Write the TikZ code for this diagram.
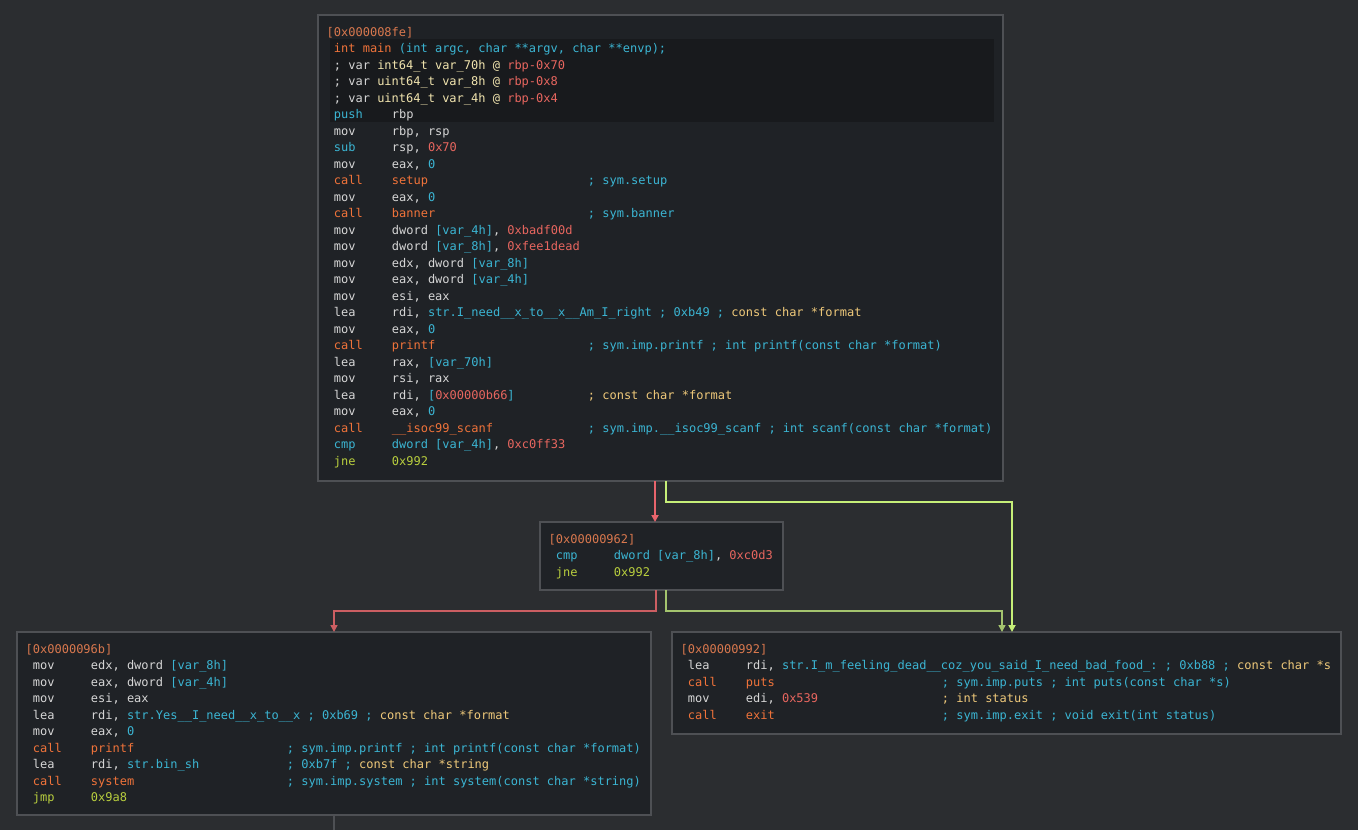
\documentclass[tikz,border=0pt]{standalone}
\usepackage{fontspec}
\setmonofont{DejaVu Sans Mono}
\usepackage{xcolor}
\usepackage{tikz}
\usetikzlibrary{arrows.meta,positioning,calc}
\definecolor{bgc}{HTML}{2B2D30}
\definecolor{blkfill}{HTML}{1F2226}
\definecolor{blkline}{HTML}{4E5054}
\definecolor{hdrfill}{HTML}{181A1D}
\definecolor{asmtext}{HTML}{D6D6D6}
\definecolor{asmaddr}{HTML}{D9784E}
\definecolor{asmcall}{HTML}{F0733A}
\definecolor{asmcyan}{HTML}{3BB5D3}
\definecolor{asmnum}{HTML}{E8665F}
\definecolor{asmgold}{HTML}{EFC97A}
\definecolor{asmpale}{HTML}{F1E4AE}
\definecolor{asmjmp}{HTML}{B9CF3E}
\definecolor{edred}{HTML}{E8646C}
\definecolor{edgreen}{HTML}{C6EE78}
\definecolor{edredd}{HTML}{CC5E62}
\definecolor{edgreend}{HTML}{A4C46E}
\newcommand{\tad}[1]{\textcolor{asmaddr}{#1}}
\newcommand{\tog}[1]{\textcolor{asmcall}{#1}}
\newcommand{\tcy}[1]{\textcolor{asmcyan}{#1}}
\newcommand{\trd}[1]{\textcolor{asmnum}{#1}}
\newcommand{\tgd}[1]{\textcolor{asmgold}{#1}}
\newcommand{\tpl}[1]{\textcolor{asmpale}{#1}}
\newcommand{\tyl}[1]{\textcolor{asmjmp}{#1}}
% one disassembly row: mnemonic, operands, comment
\newcommand{\insn}[3]{\hspace*{7.2pt}\makebox[58pt][l]{#1}\makebox[196pt][l]{#2}#3}

\begin{document}
\begin{tikzpicture}[x=1pt,y=-1pt,
  bk/.style={draw=blkline,line width=1.5pt,fill=blkfill,anchor=north west,inner sep=0pt,outer sep=0pt},
  tx/.style={font=\ttfamily\fontsize{12}{16.5}\selectfont,text=asmtext,align=left,inner sep=0pt,anchor=north west},
  hl/.style={fill=hdrfill},
  jt/.style={draw=edgreen,line width=2pt,-{Triangle[width=7pt,length=7pt]}},
  jf/.style={draw=edred,line width=2pt,-{Triangle[width=7pt,length=7pt]}},
  jtd/.style={jt,draw=edgreend,line width=1.5pt},
  jfd/.style={jf,draw=edredd,line width=1.5pt}
]
\fill[bgc] (0,0) rectangle (1358,830);
\useasboundingbox (0,0) rectangle (1358,830);
\coordinate (bot) at (0,830);

% blocks
\node[bk,minimum width=685pt,minimum height=466pt] (blkMain) at (318,15) {};
\node[bk,minimum width=243pt,minimum height=68pt] (blkCmp) at (540,522) {};
\node[bk,minimum width=634pt,minimum height=183pt] (blkWin) at (17,632) {};
\node[bk,minimum width=669pt,minimum height=102pt] (blkFail) at (672,632) {};
\fill[hl] ($(blkMain.north west)+(12,24)$) rectangle ($(blkMain.north east)+(-9,107)$);

\node[tx] (txMain) at ($(blkMain.north west)+(8.5,9.5)$) {%
\strut\tad{[0x000008fe]}\\
\hspace*{7.2pt}\tog{int main} \tcy{(int argc, char **argv, char **envp);}\\
\hspace*{7.2pt}; var \tpl{int64\_t var\_70h @} \trd{rbp-0x70}\\
\hspace*{7.2pt}; var \tpl{uint64\_t var\_8h @} \trd{rbp-0x8}\\
\hspace*{7.2pt}; var \tpl{uint64\_t var\_4h @} \trd{rbp-0x4}\\
\insn{\tcy{push}}{rbp}{}\\
\insn{mov}{rbp, rsp}{}\\
\insn{\tcy{sub}}{rsp, \trd{0x70}}{}\\
\insn{mov}{eax, \tcy{0}}{}\\
\insn{\tog{call}}{\tog{setup}}{\tcy{; sym.setup}}\\
\insn{mov}{eax, \tcy{0}}{}\\
\insn{\tog{call}}{\tog{banner}}{\tcy{; sym.banner}}\\
\insn{mov}{dword \tcy{[var\_4h]}, \trd{0xbadf00d}}{}\\
\insn{mov}{dword \tcy{[var\_8h]}, \trd{0xfee1dead}}{}\\
\insn{mov}{edx, dword \tcy{[var\_8h]}}{}\\
\insn{mov}{eax, dword \tcy{[var\_4h]}}{}\\
\insn{mov}{esi, eax}{}\\
\insn{lea}{rdi, \tcy{str.I\_need\_\_x\_to\_\_x\_\_Am\_I\_right ; 0xb49 ;} \tgd{const char *format}}{}\\
\insn{mov}{eax, \tcy{0}}{}\\
\insn{\tog{call}}{\tog{printf}}{\tcy{; sym.imp.printf ; int printf(const char *format)}}\\
\insn{lea}{rax, \tcy{[var\_70h]}}{}\\
\insn{mov}{rsi, rax}{}\\
\insn{lea}{rdi, \tcy{[}\trd{0x00000b66}\tcy{]}}{\tgd{; const char *format}}\\
\insn{mov}{eax, \tcy{0}}{}\\
\insn{\tog{call}}{\tog{\_\_isoc99\_scanf}}{\tcy{; sym.imp.\_\_isoc99\_scanf ; int scanf(const char *format)}}\\
\insn{\tcy{cmp}}{\tcy{dword [var\_4h]}, \trd{0xc0ff33}}{}\\
\insn{\tyl{jne}}{\tyl{0x992}}{}};

\node[tx] (txCmp) at ($(blkCmp.north west)+(8.5,9.5)$) {%
\strut\tad{[0x00000962]}\\
\insn{\tcy{cmp}}{\tcy{dword [var\_8h]}, \trd{0xc0d3}}{}\\
\insn{\tyl{jne}}{\tyl{0x992}}{}};

\node[tx] (txWin) at ($(blkWin.north west)+(8.5,9.5)$) {%
\strut\tad{[0x0000096b]}\\
\insn{mov}{edx, dword \tcy{[var\_8h]}}{}\\
\insn{mov}{eax, dword \tcy{[var\_4h]}}{}\\
\insn{mov}{esi, eax}{}\\
\insn{lea}{rdi, \tcy{str.Yes\_\_I\_need\_\_x\_to\_\_x ; 0xb69 ;} \tgd{const char *format}}{}\\
\insn{mov}{eax, \tcy{0}}{}\\
\insn{\tog{call}}{\tog{printf}}{\tcy{; sym.imp.printf ; int printf(const char *format)}}\\
\insn{lea}{rdi, \tcy{str.bin\_sh}}{\tcy{; 0xb7f ;} \tgd{const char *string}}\\
\insn{\tog{call}}{\tog{system}}{\tcy{; sym.imp.system ; int system(const char *string)}}\\
\insn{\tyl{jmp}}{\tyl{0x9a8}}{}};

\node[tx] (txFail) at ($(blkFail.north west)+(8.5,9.5)$) {%
\strut\tad{[0x00000992]}\\
\insn{lea}{rdi, \tcy{str.I\_m\_feeling\_dead\_\_coz\_you\_said\_I\_need\_bad\_food\_: ; 0xb88 ;} \tgd{const char *s}}{}\\
\insn{\tog{call}}{\tog{puts}}{\tcy{; sym.imp.puts ; int puts(const char *s)}}\\
\insn{mov}{edi, \trd{0x539}}{\tgd{; int status}}\\
\insn{\tog{call}}{\tog{exit}}{\tcy{; sym.imp.exit ; void exit(int status)}}};

% jumps
\draw[jf] ([xshift=-5.5pt]blkMain.south) -- ([xshift=-5.5pt]blkMain.south |- blkCmp.north);
\draw[jt] ([xshift=5.5pt]blkMain.south) -- ++(0,21) -| ([xshift=5.5pt]blkFail.north);
\draw[jfd] ([xshift=-5.5pt]blkCmp.south) -- ++(0,21) -| (blkWin.north);
\draw[jtd] ([xshift=4.5pt]blkCmp.south) -- ++(0,21) -| ([xshift=-4.5pt]blkFail.north);
\draw[draw=blkline,line width=1.5pt] (blkWin.south) -- (blkWin.south |- bot);
\end{tikzpicture}
\end{document}
